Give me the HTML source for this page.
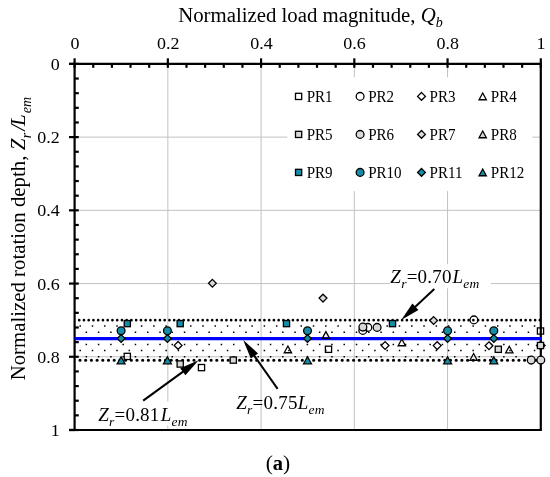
<!DOCTYPE html><html><head><meta charset="utf-8"><style>
html,body{margin:0;padding:0;background:#fff;}
svg{display:block;}
text{font-family:'Liberation Serif', 'Times New Roman', serif;fill:#000;}
</style></head><body>
<svg width="550" height="477" viewBox="0 0 550 477">
<rect width="550" height="477" fill="#fff"/>
<line x1="167.84" y1="63.90" x2="167.84" y2="430.00" stroke="#c2c2c2" stroke-width="1"/>
<line x1="74.60" y1="137.12" x2="540.80" y2="137.12" stroke="#c2c2c2" stroke-width="1"/>
<line x1="261.08" y1="63.90" x2="261.08" y2="430.00" stroke="#c2c2c2" stroke-width="1"/>
<line x1="74.60" y1="210.34" x2="540.80" y2="210.34" stroke="#c2c2c2" stroke-width="1"/>
<line x1="354.32" y1="63.90" x2="354.32" y2="430.00" stroke="#c2c2c2" stroke-width="1"/>
<line x1="74.60" y1="283.56" x2="540.80" y2="283.56" stroke="#c2c2c2" stroke-width="1"/>
<line x1="447.56" y1="63.90" x2="447.56" y2="430.00" stroke="#c2c2c2" stroke-width="1"/>
<line x1="74.60" y1="356.78" x2="540.80" y2="356.78" stroke="#c2c2c2" stroke-width="1"/>
<g stroke="#000" stroke-width="2.2" fill="none">
<path d="M74.60 63.90H540.80V430.00H74.60Z"/>
<line x1="69.00" y1="63.90" x2="74.60" y2="63.90"/>
<line x1="69.00" y1="430.00" x2="74.60" y2="430.00"/>
<line x1="74.60" y1="58.3" x2="74.60" y2="67.8"/>
<line x1="69" y1="63.90" x2="78.8" y2="63.90"/>
<line x1="93.25" y1="63.90" x2="93.25" y2="67.8"/>
<line x1="74.60" y1="78.54" x2="78.8" y2="78.54"/>
<line x1="111.90" y1="63.90" x2="111.90" y2="67.8"/>
<line x1="74.60" y1="93.19" x2="78.8" y2="93.19"/>
<line x1="130.54" y1="63.90" x2="130.54" y2="67.8"/>
<line x1="74.60" y1="107.83" x2="78.8" y2="107.83"/>
<line x1="149.19" y1="63.90" x2="149.19" y2="67.8"/>
<line x1="74.60" y1="122.48" x2="78.8" y2="122.48"/>
<line x1="167.84" y1="58.3" x2="167.84" y2="67.8"/>
<line x1="69" y1="137.12" x2="78.8" y2="137.12"/>
<line x1="186.49" y1="63.90" x2="186.49" y2="67.8"/>
<line x1="74.60" y1="151.76" x2="78.8" y2="151.76"/>
<line x1="205.14" y1="63.90" x2="205.14" y2="67.8"/>
<line x1="74.60" y1="166.41" x2="78.8" y2="166.41"/>
<line x1="223.78" y1="63.90" x2="223.78" y2="67.8"/>
<line x1="74.60" y1="181.05" x2="78.8" y2="181.05"/>
<line x1="242.43" y1="63.90" x2="242.43" y2="67.8"/>
<line x1="74.60" y1="195.70" x2="78.8" y2="195.70"/>
<line x1="261.08" y1="58.3" x2="261.08" y2="67.8"/>
<line x1="69" y1="210.34" x2="78.8" y2="210.34"/>
<line x1="279.73" y1="63.90" x2="279.73" y2="67.8"/>
<line x1="74.60" y1="224.98" x2="78.8" y2="224.98"/>
<line x1="298.38" y1="63.90" x2="298.38" y2="67.8"/>
<line x1="74.60" y1="239.63" x2="78.8" y2="239.63"/>
<line x1="317.02" y1="63.90" x2="317.02" y2="67.8"/>
<line x1="74.60" y1="254.27" x2="78.8" y2="254.27"/>
<line x1="335.67" y1="63.90" x2="335.67" y2="67.8"/>
<line x1="74.60" y1="268.92" x2="78.8" y2="268.92"/>
<line x1="354.32" y1="58.3" x2="354.32" y2="67.8"/>
<line x1="69" y1="283.56" x2="78.8" y2="283.56"/>
<line x1="372.97" y1="63.90" x2="372.97" y2="67.8"/>
<line x1="74.60" y1="298.20" x2="78.8" y2="298.20"/>
<line x1="391.62" y1="63.90" x2="391.62" y2="67.8"/>
<line x1="74.60" y1="312.85" x2="78.8" y2="312.85"/>
<line x1="410.26" y1="63.90" x2="410.26" y2="67.8"/>
<line x1="74.60" y1="327.49" x2="78.8" y2="327.49"/>
<line x1="428.91" y1="63.90" x2="428.91" y2="67.8"/>
<line x1="74.60" y1="342.14" x2="78.8" y2="342.14"/>
<line x1="447.56" y1="58.3" x2="447.56" y2="67.8"/>
<line x1="69" y1="356.78" x2="78.8" y2="356.78"/>
<line x1="466.21" y1="63.90" x2="466.21" y2="67.8"/>
<line x1="74.60" y1="371.42" x2="78.8" y2="371.42"/>
<line x1="484.86" y1="63.90" x2="484.86" y2="67.8"/>
<line x1="74.60" y1="386.07" x2="78.8" y2="386.07"/>
<line x1="503.50" y1="63.90" x2="503.50" y2="67.8"/>
<line x1="74.60" y1="400.71" x2="78.8" y2="400.71"/>
<line x1="522.15" y1="63.90" x2="522.15" y2="67.8"/>
<line x1="74.60" y1="415.36" x2="78.8" y2="415.36"/>
<line x1="540.80" y1="58.3" x2="540.80" y2="67.8"/>
<line x1="69" y1="430.00" x2="78.8" y2="430.00"/>
</g>
<path d="M79.45 325.35h1.5v1.5h-1.5zM91.73 325.35h1.5v1.5h-1.5zM104.01 325.35h1.5v1.5h-1.5zM116.29 325.35h1.5v1.5h-1.5zM128.57 325.35h1.5v1.5h-1.5zM140.85 325.35h1.5v1.5h-1.5zM153.13 325.35h1.5v1.5h-1.5zM165.41 325.35h1.5v1.5h-1.5zM177.69 325.35h1.5v1.5h-1.5zM189.97 325.35h1.5v1.5h-1.5zM202.25 325.35h1.5v1.5h-1.5zM214.53 325.35h1.5v1.5h-1.5zM226.81 325.35h1.5v1.5h-1.5zM239.09 325.35h1.5v1.5h-1.5zM251.37 325.35h1.5v1.5h-1.5zM263.65 325.35h1.5v1.5h-1.5zM275.93 325.35h1.5v1.5h-1.5zM288.21 325.35h1.5v1.5h-1.5zM300.49 325.35h1.5v1.5h-1.5zM312.77 325.35h1.5v1.5h-1.5zM325.05 325.35h1.5v1.5h-1.5zM337.33 325.35h1.5v1.5h-1.5zM349.61 325.35h1.5v1.5h-1.5zM361.89 325.35h1.5v1.5h-1.5zM374.17 325.35h1.5v1.5h-1.5zM386.45 325.35h1.5v1.5h-1.5zM398.73 325.35h1.5v1.5h-1.5zM411.01 325.35h1.5v1.5h-1.5zM423.29 325.35h1.5v1.5h-1.5zM435.57 325.35h1.5v1.5h-1.5zM447.85 325.35h1.5v1.5h-1.5zM460.13 325.35h1.5v1.5h-1.5zM472.41 325.35h1.5v1.5h-1.5zM484.69 325.35h1.5v1.5h-1.5zM496.97 325.35h1.5v1.5h-1.5zM509.25 325.35h1.5v1.5h-1.5zM521.53 325.35h1.5v1.5h-1.5zM533.81 325.35h1.5v1.5h-1.5zM85.59 331.47h1.5v1.5h-1.5zM97.87 331.47h1.5v1.5h-1.5zM110.15 331.47h1.5v1.5h-1.5zM122.43 331.47h1.5v1.5h-1.5zM134.71 331.47h1.5v1.5h-1.5zM146.99 331.47h1.5v1.5h-1.5zM159.27 331.47h1.5v1.5h-1.5zM171.55 331.47h1.5v1.5h-1.5zM183.83 331.47h1.5v1.5h-1.5zM196.11 331.47h1.5v1.5h-1.5zM208.39 331.47h1.5v1.5h-1.5zM220.67 331.47h1.5v1.5h-1.5zM232.95 331.47h1.5v1.5h-1.5zM245.23 331.47h1.5v1.5h-1.5zM257.51 331.47h1.5v1.5h-1.5zM269.79 331.47h1.5v1.5h-1.5zM282.07 331.47h1.5v1.5h-1.5zM294.35 331.47h1.5v1.5h-1.5zM306.63 331.47h1.5v1.5h-1.5zM318.91 331.47h1.5v1.5h-1.5zM331.19 331.47h1.5v1.5h-1.5zM343.47 331.47h1.5v1.5h-1.5zM355.75 331.47h1.5v1.5h-1.5zM368.03 331.47h1.5v1.5h-1.5zM380.31 331.47h1.5v1.5h-1.5zM392.59 331.47h1.5v1.5h-1.5zM404.87 331.47h1.5v1.5h-1.5zM417.15 331.47h1.5v1.5h-1.5zM429.43 331.47h1.5v1.5h-1.5zM441.71 331.47h1.5v1.5h-1.5zM453.99 331.47h1.5v1.5h-1.5zM466.27 331.47h1.5v1.5h-1.5zM478.55 331.47h1.5v1.5h-1.5zM490.83 331.47h1.5v1.5h-1.5zM503.11 331.47h1.5v1.5h-1.5zM515.39 331.47h1.5v1.5h-1.5zM527.67 331.47h1.5v1.5h-1.5zM79.45 337.59h1.5v1.5h-1.5zM91.73 337.59h1.5v1.5h-1.5zM104.01 337.59h1.5v1.5h-1.5zM116.29 337.59h1.5v1.5h-1.5zM128.57 337.59h1.5v1.5h-1.5zM140.85 337.59h1.5v1.5h-1.5zM153.13 337.59h1.5v1.5h-1.5zM165.41 337.59h1.5v1.5h-1.5zM177.69 337.59h1.5v1.5h-1.5zM189.97 337.59h1.5v1.5h-1.5zM202.25 337.59h1.5v1.5h-1.5zM214.53 337.59h1.5v1.5h-1.5zM226.81 337.59h1.5v1.5h-1.5zM239.09 337.59h1.5v1.5h-1.5zM251.37 337.59h1.5v1.5h-1.5zM263.65 337.59h1.5v1.5h-1.5zM275.93 337.59h1.5v1.5h-1.5zM288.21 337.59h1.5v1.5h-1.5zM300.49 337.59h1.5v1.5h-1.5zM312.77 337.59h1.5v1.5h-1.5zM325.05 337.59h1.5v1.5h-1.5zM337.33 337.59h1.5v1.5h-1.5zM349.61 337.59h1.5v1.5h-1.5zM361.89 337.59h1.5v1.5h-1.5zM374.17 337.59h1.5v1.5h-1.5zM386.45 337.59h1.5v1.5h-1.5zM398.73 337.59h1.5v1.5h-1.5zM411.01 337.59h1.5v1.5h-1.5zM423.29 337.59h1.5v1.5h-1.5zM435.57 337.59h1.5v1.5h-1.5zM447.85 337.59h1.5v1.5h-1.5zM460.13 337.59h1.5v1.5h-1.5zM472.41 337.59h1.5v1.5h-1.5zM484.69 337.59h1.5v1.5h-1.5zM496.97 337.59h1.5v1.5h-1.5zM509.25 337.59h1.5v1.5h-1.5zM521.53 337.59h1.5v1.5h-1.5zM533.81 337.59h1.5v1.5h-1.5zM85.59 343.71h1.5v1.5h-1.5zM97.87 343.71h1.5v1.5h-1.5zM110.15 343.71h1.5v1.5h-1.5zM122.43 343.71h1.5v1.5h-1.5zM134.71 343.71h1.5v1.5h-1.5zM146.99 343.71h1.5v1.5h-1.5zM159.27 343.71h1.5v1.5h-1.5zM171.55 343.71h1.5v1.5h-1.5zM183.83 343.71h1.5v1.5h-1.5zM196.11 343.71h1.5v1.5h-1.5zM208.39 343.71h1.5v1.5h-1.5zM220.67 343.71h1.5v1.5h-1.5zM232.95 343.71h1.5v1.5h-1.5zM245.23 343.71h1.5v1.5h-1.5zM257.51 343.71h1.5v1.5h-1.5zM269.79 343.71h1.5v1.5h-1.5zM282.07 343.71h1.5v1.5h-1.5zM294.35 343.71h1.5v1.5h-1.5zM306.63 343.71h1.5v1.5h-1.5zM318.91 343.71h1.5v1.5h-1.5zM331.19 343.71h1.5v1.5h-1.5zM343.47 343.71h1.5v1.5h-1.5zM355.75 343.71h1.5v1.5h-1.5zM368.03 343.71h1.5v1.5h-1.5zM380.31 343.71h1.5v1.5h-1.5zM392.59 343.71h1.5v1.5h-1.5zM404.87 343.71h1.5v1.5h-1.5zM417.15 343.71h1.5v1.5h-1.5zM429.43 343.71h1.5v1.5h-1.5zM441.71 343.71h1.5v1.5h-1.5zM453.99 343.71h1.5v1.5h-1.5zM466.27 343.71h1.5v1.5h-1.5zM478.55 343.71h1.5v1.5h-1.5zM490.83 343.71h1.5v1.5h-1.5zM503.11 343.71h1.5v1.5h-1.5zM515.39 343.71h1.5v1.5h-1.5zM527.67 343.71h1.5v1.5h-1.5zM79.45 349.83h1.5v1.5h-1.5zM91.73 349.83h1.5v1.5h-1.5zM104.01 349.83h1.5v1.5h-1.5zM116.29 349.83h1.5v1.5h-1.5zM128.57 349.83h1.5v1.5h-1.5zM140.85 349.83h1.5v1.5h-1.5zM153.13 349.83h1.5v1.5h-1.5zM165.41 349.83h1.5v1.5h-1.5zM177.69 349.83h1.5v1.5h-1.5zM189.97 349.83h1.5v1.5h-1.5zM202.25 349.83h1.5v1.5h-1.5zM214.53 349.83h1.5v1.5h-1.5zM226.81 349.83h1.5v1.5h-1.5zM239.09 349.83h1.5v1.5h-1.5zM251.37 349.83h1.5v1.5h-1.5zM263.65 349.83h1.5v1.5h-1.5zM275.93 349.83h1.5v1.5h-1.5zM288.21 349.83h1.5v1.5h-1.5zM300.49 349.83h1.5v1.5h-1.5zM312.77 349.83h1.5v1.5h-1.5zM325.05 349.83h1.5v1.5h-1.5zM337.33 349.83h1.5v1.5h-1.5zM349.61 349.83h1.5v1.5h-1.5zM361.89 349.83h1.5v1.5h-1.5zM374.17 349.83h1.5v1.5h-1.5zM386.45 349.83h1.5v1.5h-1.5zM398.73 349.83h1.5v1.5h-1.5zM411.01 349.83h1.5v1.5h-1.5zM423.29 349.83h1.5v1.5h-1.5zM435.57 349.83h1.5v1.5h-1.5zM447.85 349.83h1.5v1.5h-1.5zM460.13 349.83h1.5v1.5h-1.5zM472.41 349.83h1.5v1.5h-1.5zM484.69 349.83h1.5v1.5h-1.5zM496.97 349.83h1.5v1.5h-1.5zM509.25 349.83h1.5v1.5h-1.5zM521.53 349.83h1.5v1.5h-1.5zM533.81 349.83h1.5v1.5h-1.5zM85.59 355.95h1.5v1.5h-1.5zM97.87 355.95h1.5v1.5h-1.5zM110.15 355.95h1.5v1.5h-1.5zM122.43 355.95h1.5v1.5h-1.5zM134.71 355.95h1.5v1.5h-1.5zM146.99 355.95h1.5v1.5h-1.5zM159.27 355.95h1.5v1.5h-1.5zM171.55 355.95h1.5v1.5h-1.5zM183.83 355.95h1.5v1.5h-1.5zM196.11 355.95h1.5v1.5h-1.5zM208.39 355.95h1.5v1.5h-1.5zM220.67 355.95h1.5v1.5h-1.5zM232.95 355.95h1.5v1.5h-1.5zM245.23 355.95h1.5v1.5h-1.5zM257.51 355.95h1.5v1.5h-1.5zM269.79 355.95h1.5v1.5h-1.5zM282.07 355.95h1.5v1.5h-1.5zM294.35 355.95h1.5v1.5h-1.5zM306.63 355.95h1.5v1.5h-1.5zM318.91 355.95h1.5v1.5h-1.5zM331.19 355.95h1.5v1.5h-1.5zM343.47 355.95h1.5v1.5h-1.5zM355.75 355.95h1.5v1.5h-1.5zM368.03 355.95h1.5v1.5h-1.5zM380.31 355.95h1.5v1.5h-1.5zM392.59 355.95h1.5v1.5h-1.5zM404.87 355.95h1.5v1.5h-1.5zM417.15 355.95h1.5v1.5h-1.5zM429.43 355.95h1.5v1.5h-1.5zM441.71 355.95h1.5v1.5h-1.5zM453.99 355.95h1.5v1.5h-1.5zM466.27 355.95h1.5v1.5h-1.5zM478.55 355.95h1.5v1.5h-1.5zM490.83 355.95h1.5v1.5h-1.5zM503.11 355.95h1.5v1.5h-1.5zM515.39 355.95h1.5v1.5h-1.5zM527.67 355.95h1.5v1.5h-1.5z" fill="#000"/>
<line x1="79.2" y1="320.20" x2="540" y2="320.20" stroke="#000" stroke-width="2.7" stroke-linecap="round" stroke-dasharray="0 4.749"/>
<line x1="80" y1="360.25" x2="537" y2="360.25" stroke="#000" stroke-width="3.2" stroke-linecap="round" stroke-dasharray="0 5.7"/>
<line x1="74.60" y1="338.55" x2="542.00" y2="338.55" stroke="#0000ff" stroke-width="3.2"/>
<circle cx="362.80" cy="330.40" r="3.90" fill="none" stroke="#000" stroke-width="1.30"/>
<circle cx="367.80" cy="327.40" r="3.90" fill="none" stroke="#000" stroke-width="1.30"/>
<circle cx="362.90" cy="327.10" r="3.90" fill="#d9d9d9" stroke="#000" stroke-width="1.30"/>
<circle cx="377.10" cy="327.40" r="3.90" fill="#d9d9d9" stroke="#000" stroke-width="1.30"/>
<circle cx="473.90" cy="319.90" r="3.90" fill="none" stroke="#000" stroke-width="1.30"/>
<circle cx="531.20" cy="360.10" r="3.90" fill="#d9d9d9" stroke="#000" stroke-width="1.30"/>
<circle cx="540.80" cy="360.10" r="3.90" fill="#d9d9d9" stroke="#000" stroke-width="1.30"/>
<path d="M212.40 279.40L216.30 283.30L212.40 287.20L208.50 283.30Z" fill="#d9d9d9" stroke="#000" stroke-width="1.30" stroke-linejoin="miter"/>
<path d="M323.00 294.20L326.90 298.10L323.00 302.00L319.10 298.10Z" fill="#d9d9d9" stroke="#000" stroke-width="1.30" stroke-linejoin="miter"/>
<path d="M178.10 341.50L182.00 345.40L178.10 349.30L174.20 345.40Z" fill="none" stroke="#000" stroke-width="1.30" stroke-linejoin="miter"/>
<path d="M385.10 341.60L389.00 345.50L385.10 349.40L381.20 345.50Z" fill="none" stroke="#000" stroke-width="1.30" stroke-linejoin="miter"/>
<path d="M437.20 341.70L441.10 345.60L437.20 349.50L433.30 345.60Z" fill="none" stroke="#000" stroke-width="1.30" stroke-linejoin="miter"/>
<path d="M489.00 341.80L492.90 345.70L489.00 349.60L485.10 345.70Z" fill="none" stroke="#000" stroke-width="1.30" stroke-linejoin="miter"/>
<path d="M433.60 316.60L437.50 320.50L433.60 324.40L429.70 320.50Z" fill="#d9d9d9" stroke="#000" stroke-width="1.30" stroke-linejoin="miter"/>
<path d="M540.80 341.30L545.10 345.60L540.80 349.90L536.50 345.60Z" fill="none" stroke="#000" stroke-width="1.30" stroke-linejoin="miter"/>
<rect x="124.20" y="353.30" width="6.20" height="6.20" fill="none" stroke="#000" stroke-width="1.30"/>
<rect x="177.10" y="360.90" width="6.20" height="6.20" fill="#d9d9d9" stroke="#000" stroke-width="1.30"/>
<rect x="198.40" y="364.50" width="6.20" height="6.20" fill="none" stroke="#000" stroke-width="1.30"/>
<rect x="230.20" y="357.00" width="6.20" height="6.20" fill="#d9d9d9" stroke="#000" stroke-width="1.30"/>
<rect x="325.40" y="346.20" width="6.20" height="6.20" fill="none" stroke="#000" stroke-width="1.30"/>
<rect x="495.20" y="346.20" width="6.20" height="6.20" fill="#d9d9d9" stroke="#000" stroke-width="1.30"/>
<rect x="537.40" y="327.90" width="6.20" height="6.20" fill="none" stroke="#000" stroke-width="1.30"/>
<rect x="537.40" y="342.40" width="6.20" height="6.20" fill="#d9d9d9" stroke="#000" stroke-width="1.30"/>
<path d="M287.90 346.05L291.55 352.75L284.25 352.75Z" fill="none" stroke="#000" stroke-width="1.30" stroke-linejoin="miter"/>
<path d="M325.90 331.65L329.55 338.35L322.25 338.35Z" fill="none" stroke="#000" stroke-width="1.30" stroke-linejoin="miter"/>
<path d="M401.80 339.05L405.45 345.75L398.15 345.75Z" fill="none" stroke="#000" stroke-width="1.30" stroke-linejoin="miter"/>
<path d="M473.60 353.55L477.25 360.25L469.95 360.25Z" fill="none" stroke="#000" stroke-width="1.30" stroke-linejoin="miter"/>
<path d="M509.30 346.25L512.95 352.95L505.65 352.95Z" fill="none" stroke="#000" stroke-width="1.30" stroke-linejoin="miter"/>
<rect x="124.20" y="320.50" width="6.20" height="6.20" fill="#148ea8" stroke="#000" stroke-width="1.30"/>
<rect x="177.10" y="320.50" width="6.20" height="6.20" fill="#148ea8" stroke="#000" stroke-width="1.30"/>
<rect x="283.40" y="320.50" width="6.20" height="6.20" fill="#148ea8" stroke="#000" stroke-width="1.30"/>
<rect x="389.40" y="320.50" width="6.20" height="6.20" fill="#148ea8" stroke="#000" stroke-width="1.30"/>
<circle cx="121.10" cy="330.80" r="3.90" fill="#148ea8" stroke="#000" stroke-width="1.30"/>
<path d="M121.10 334.60L125.00 338.50L121.10 342.40L117.20 338.50Z" fill="#148ea8" stroke="#000" stroke-width="1.30" stroke-linejoin="miter"/>
<path d="M121.10 356.80L125.05 363.80L117.15 363.80Z" fill="#148ea8" stroke="#000" stroke-width="1.30" stroke-linejoin="miter"/>
<circle cx="167.40" cy="330.80" r="3.90" fill="#148ea8" stroke="#000" stroke-width="1.30"/>
<path d="M167.40 334.60L171.30 338.50L167.40 342.40L163.50 338.50Z" fill="#148ea8" stroke="#000" stroke-width="1.30" stroke-linejoin="miter"/>
<path d="M167.40 356.80L171.35 363.80L163.45 363.80Z" fill="#148ea8" stroke="#000" stroke-width="1.30" stroke-linejoin="miter"/>
<circle cx="307.50" cy="330.80" r="3.90" fill="#148ea8" stroke="#000" stroke-width="1.30"/>
<path d="M307.50 334.60L311.40 338.50L307.50 342.40L303.60 338.50Z" fill="#148ea8" stroke="#000" stroke-width="1.30" stroke-linejoin="miter"/>
<path d="M307.50 356.80L311.45 363.80L303.55 363.80Z" fill="#148ea8" stroke="#000" stroke-width="1.30" stroke-linejoin="miter"/>
<circle cx="447.60" cy="330.80" r="3.90" fill="#148ea8" stroke="#000" stroke-width="1.30"/>
<path d="M447.60 334.60L451.50 338.50L447.60 342.40L443.70 338.50Z" fill="#148ea8" stroke="#000" stroke-width="1.30" stroke-linejoin="miter"/>
<path d="M447.60 356.80L451.55 363.80L443.65 363.80Z" fill="#148ea8" stroke="#000" stroke-width="1.30" stroke-linejoin="miter"/>
<circle cx="493.80" cy="330.80" r="3.90" fill="#148ea8" stroke="#000" stroke-width="1.30"/>
<path d="M493.80 334.60L497.70 338.50L493.80 342.40L489.90 338.50Z" fill="#148ea8" stroke="#000" stroke-width="1.30" stroke-linejoin="miter"/>
<path d="M493.80 356.80L497.75 363.80L489.85 363.80Z" fill="#148ea8" stroke="#000" stroke-width="1.30" stroke-linejoin="miter"/>
<text transform="translate(74.90,48.5) scale(1,0.93)" font-size="18.0" text-anchor="middle">0</text>
<text transform="translate(59.8,69.90) scale(1,0.93)" font-size="18.0" text-anchor="end">0</text>
<text transform="translate(168.14,48.5) scale(1,0.93)" font-size="18.0" text-anchor="middle">0.2</text>
<text transform="translate(59.8,143.12) scale(1,0.93)" font-size="18.0" text-anchor="end">0.2</text>
<text transform="translate(261.38,48.5) scale(1,0.93)" font-size="18.0" text-anchor="middle">0.4</text>
<text transform="translate(59.8,216.34) scale(1,0.93)" font-size="18.0" text-anchor="end">0.4</text>
<text transform="translate(354.62,48.5) scale(1,0.93)" font-size="18.0" text-anchor="middle">0.6</text>
<text transform="translate(59.8,289.56) scale(1,0.93)" font-size="18.0" text-anchor="end">0.6</text>
<text transform="translate(447.86,48.5) scale(1,0.93)" font-size="18.0" text-anchor="middle">0.8</text>
<text transform="translate(59.8,362.78) scale(1,0.93)" font-size="18.0" text-anchor="end">0.8</text>
<text transform="translate(541.10,48.5) scale(1,0.93)" font-size="18.0" text-anchor="middle">1</text>
<text transform="translate(59.8,436.00) scale(1,0.93)" font-size="18.0" text-anchor="end">1</text>
<text x="178.2" y="21.8" font-size="20.8">Normalized load magnitude, <tspan font-style="italic">Q</tspan><tspan font-style="italic" font-size="14" dy="5">b</tspan></text>
<text transform="translate(24.8,380.3) rotate(-90)" font-size="20.8"><tspan>Normalized rotation depth,</tspan> <tspan x="230.10" font-style="italic" font-size="21">Z</tspan><tspan x="242.00" font-style="italic" font-size="14" dy="6.3">r</tspan><tspan x="249.60" dy="-5.8" font-style="italic" font-size="22">/</tspan><tspan x="254.40" font-style="italic" font-size="21" dy="-0.5">L</tspan><tspan x="267.10" font-style="italic" font-size="14" dy="6.3">em</tspan></text>
<rect x="287.3" y="77.2" width="245.1" height="113.9" fill="#fff"/>
<rect x="295.50" y="93.30" width="6.20" height="6.20" fill="none" stroke="#000" stroke-width="1.30"/>
<text transform="translate(306.70,101.50) scale(0.94,1)" font-size="16">PR1</text>
<circle cx="360.10" cy="96.40" r="3.90" fill="none" stroke="#000" stroke-width="1.30"/>
<text transform="translate(368.20,101.50) scale(0.94,1)" font-size="16">PR2</text>
<path d="M421.50 92.50L425.40 96.40L421.50 100.30L417.60 96.40Z" fill="none" stroke="#000" stroke-width="1.30" stroke-linejoin="miter"/>
<text transform="translate(429.60,101.50) scale(0.94,1)" font-size="16">PR3</text>
<path d="M482.70 93.05L486.35 99.75L479.05 99.75Z" fill="none" stroke="#000" stroke-width="1.30" stroke-linejoin="miter"/>
<text transform="translate(490.80,101.50) scale(0.94,1)" font-size="16">PR4</text>
<rect x="295.50" y="131.30" width="6.20" height="6.20" fill="#d9d9d9" stroke="#000" stroke-width="1.30"/>
<text transform="translate(306.70,139.50) scale(0.94,1)" font-size="16">PR5</text>
<circle cx="360.10" cy="134.40" r="3.90" fill="#d9d9d9" stroke="#000" stroke-width="1.30"/>
<text transform="translate(368.20,139.50) scale(0.94,1)" font-size="16">PR6</text>
<path d="M421.50 130.50L425.40 134.40L421.50 138.30L417.60 134.40Z" fill="#d9d9d9" stroke="#000" stroke-width="1.30" stroke-linejoin="miter"/>
<text transform="translate(429.60,139.50) scale(0.94,1)" font-size="16">PR7</text>
<path d="M482.70 131.05L486.35 137.75L479.05 137.75Z" fill="#d9d9d9" stroke="#000" stroke-width="1.30" stroke-linejoin="miter"/>
<text transform="translate(490.80,139.50) scale(0.94,1)" font-size="16">PR8</text>
<rect x="295.50" y="169.30" width="6.20" height="6.20" fill="#148ea8" stroke="#000" stroke-width="1.30"/>
<text transform="translate(306.70,177.50) scale(0.94,1)" font-size="16">PR9</text>
<circle cx="360.10" cy="172.40" r="3.90" fill="#148ea8" stroke="#000" stroke-width="1.30"/>
<text transform="translate(368.20,177.50) scale(0.94,1)" font-size="16">PR10</text>
<path d="M421.50 168.50L425.40 172.40L421.50 176.30L417.60 172.40Z" fill="#148ea8" stroke="#000" stroke-width="1.30" stroke-linejoin="miter"/>
<text transform="translate(429.60,177.50) scale(0.94,1)" font-size="16">PR11</text>
<path d="M482.70 169.05L486.35 175.75L479.05 175.75Z" fill="#148ea8" stroke="#000" stroke-width="1.30" stroke-linejoin="miter"/>
<text transform="translate(490.80,177.50) scale(0.94,1)" font-size="16">PR12</text>
<rect x="389.8" y="264" width="101" height="24.3" fill="#fff"/>
<rect x="97" y="401.5" width="90" height="24" fill="#fff"/>
<text x="390.30" y="283.10" font-size="19" letter-spacing="0.25"><tspan font-style="italic">Z</tspan><tspan font-style="italic" font-size="13.5" dy="5">r</tspan><tspan dy="-5">=0.70</tspan><tspan font-style="italic" dx="0.60">L</tspan><tspan font-style="italic" font-size="13.5" dy="5.3">em</tspan></text>
<text x="98.30" y="421.00" font-size="19" letter-spacing="0.20"><tspan font-style="italic">Z</tspan><tspan font-style="italic" font-size="13.5" dy="5">r</tspan><tspan dy="-5">=0.81</tspan><tspan font-style="italic" dx="1.30">L</tspan><tspan font-style="italic" font-size="13.5" dy="5.3">em</tspan></text>
<text x="236.20" y="408.60" font-size="19" letter-spacing="0.25"><tspan font-style="italic">Z</tspan><tspan font-style="italic" font-size="13.5" dy="5">r</tspan><tspan dy="-5">=0.75</tspan><tspan font-style="italic" dx="0.00">L</tspan><tspan font-style="italic" font-size="13.5" dy="5.3">em</tspan></text>
<line x1="143.20" y1="400.60" x2="184.45" y2="370.59" stroke="#000" stroke-width="2.00"/>
<path d="M198.60 360.30L185.42 375.33L180.24 368.21Z" fill="#000"/>
<line x1="277.60" y1="388.90" x2="253.27" y2="354.31" stroke="#000" stroke-width="2.00"/>
<path d="M243.20 340.00L258.02 353.42L250.82 358.48Z" fill="#000"/>
<line x1="434.30" y1="289.00" x2="413.97" y2="308.04" stroke="#000" stroke-width="2.00"/>
<path d="M401.20 320.00L412.42 303.46L418.44 309.88Z" fill="#000"/>
<text x="265.7" y="469.9" font-size="21.5">(<tspan font-weight="bold" font-size="20.5">a</tspan>)</text>
</svg></body></html>
